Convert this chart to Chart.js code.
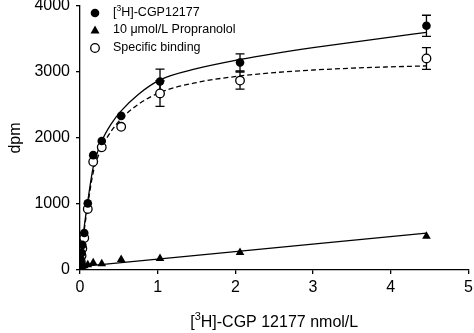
<!DOCTYPE html>
<html>
<head>
<meta charset="utf-8">
<script src="https://cdn.jsdelivr.net/npm/chart.js@4"></script>
<style>
  body { margin: 0; background: #fff; }
</style>
</head>
<body>
<canvas id="binding-graph" width="474" height="333"></canvas>
<script>
// ligand concentration (nmol/L) and measured dpm
var concentrations = [0.005, 0.01, 0.02, 0.03, 0.055, 0.1, 0.17, 0.28, 0.53, 1.03, 2.06, 4.46];
var totalBinding = [90, 160, 260, 380, 560, 1010, 1740, 1955, 2335, 2855, 3145, 3700];
var totalError = [0, 0, 0, 0, 0, 0, 0, 0, 0, 190, 130, 160];
var nonSpecific = [30, 35, 45, 55, 65, 80, 110, 95, 160, 175, 265, 510];
var specificBinding = [60, 125, 215, 325, 485, 925, 1640, 1860, 2170, 2675, 2870, 3205];
var specificError = [0, 0, 0, 0, 0, 0, 0, 0, 0, 195, 130, 165];

// fitted curves
var curveX = [0, 0.05, 0.1, 0.17, 0.28, 0.4, 0.53, 0.75, 1.03, 1.5, 2.06, 2.5, 3, 3.5, 4, 4.46];
var totalCurve = [50, 610, 1040, 1560, 1950, 2210, 2410, 2660, 2880, 3050, 3190, 3280, 3370, 3450, 3530, 3600];
var specificCurve = [0, 560, 980, 1480, 1850, 2100, 2290, 2510, 2690, 2840, 2940, 2990, 3030, 3058, 3078, 3092];
var nsLineX = [0, 4.46];
var nsLine = [50, 560];

var xTicks = [0, 1, 2, 3, 4, 5];
var yTicks = [0, 1000, 2000, 3000, 4000];

var FONT = '"Liberation Sans", Arial, sans-serif';

function pts(xs, ys) {
    return xs.map(function(x, i) { return { x: x, y: ys[i] }; });
}

// error bars, drawn under the markers
var errorBars = {
    id: 'errorBars',
    beforeDatasetsDraw: function(chart) {
        var ctx = chart.ctx;
        var xs = chart.scales.x, ys = chart.scales.y;
        ctx.save();
        ctx.strokeStyle = '#000';
        ctx.lineWidth = 1.3;
        chart.data.datasets.forEach(function(ds) {
            if (!ds.errors) return;
            ds.data.forEach(function(p, i) {
                var e = ds.errors[i];
                if (!e) return;
                var px = xs.getPixelForValue(p.x);
                var top = ys.getPixelForValue(p.y + e);
                var bot = ys.getPixelForValue(p.y - e);
                ctx.beginPath();
                ctx.moveTo(px, top); ctx.lineTo(px, bot);
                ctx.moveTo(px - 4.5, top); ctx.lineTo(px + 4.5, top);
                ctx.moveTo(px - 4.5, bot); ctx.lineTo(px + 4.5, bot);
                ctx.stroke();
            });
        });
        ctx.restore();
    }
};

// legend + x title with superscripts
var extras = {
    id: 'extras',
    afterDraw: function(chart) {
        var ctx = chart.ctx;
        ctx.save();
        ctx.fillStyle = '#000';
        ctx.strokeStyle = '#000';
        ctx.textBaseline = 'middle';
        ctx.textAlign = 'left';

        var mx = 95, tx = 113;
        var rows = [13, 30, 48];
        // filled circle
        ctx.beginPath(); ctx.arc(mx, rows[0], 4.3, 0, Math.PI * 2); ctx.fill();
        // triangle
        ctx.beginPath();
        ctx.moveTo(mx, rows[1] - 4.5); ctx.lineTo(mx + 4.5, rows[1] + 3.5); ctx.lineTo(mx - 4.5, rows[1] + 3.5);
        ctx.closePath(); ctx.fill();
        // open circle
        ctx.lineWidth = 1.3;
        ctx.beginPath(); ctx.arc(mx, rows[2], 4.3, 0, Math.PI * 2); ctx.stroke();

        ctx.font = '12.5px ' + FONT;
        var x = tx;
        ctx.fillText('[', x, rows[0]); x += ctx.measureText('[').width;
        ctx.font = '8.5px ' + FONT;
        ctx.fillText('3', x, rows[0] - 4); x += ctx.measureText('3').width;
        ctx.font = '12.5px ' + FONT;
        ctx.fillText('H]-CGP12177', x, rows[0]);
        ctx.fillText('10 \u03bcmol/L Propranolol', tx, rows[1]);
        ctx.fillText('Specific binding', tx, rows[2]);

        // x axis title
        var big = '16px ' + FONT, small = '11px ' + FONT;
        ctx.font = big;
        var w1 = ctx.measureText('[').width;
        var w3 = ctx.measureText('H]-CGP 12177 nmol/L').width;
        ctx.font = small;
        var w2 = ctx.measureText('3').width;
        var area = chart.chartArea;
        var cx = (area.left + area.right) / 2;
        var y = 323;
        x = cx - (w1 + w2 + w3) / 2;
        ctx.font = big;
        ctx.fillText('[', x, y); x += w1;
        ctx.font = small;
        ctx.fillText('3', x, y - 6); x += w2;
        ctx.font = big;
        ctx.fillText('H]-CGP 12177 nmol/L', x, y);
        ctx.restore();
    }
};

var ctx = document.getElementById('binding-graph').getContext('2d');
var bindingChart = new Chart(ctx, {
    type: 'scatter',
    data: {
        datasets: [{
            label: '[3H]-CGP12177',
            data: pts(concentrations, totalBinding),
            errors: totalError,
            pointStyle: 'circle',
            pointRadius: 4.3,
            backgroundColor: '#000',
            borderColor: '#000',
            borderWidth: 0
        }, {
            label: '10 \u03bcmol/L Propranolol',
            data: pts(concentrations, nonSpecific),
            pointStyle: 'triangle',
            pointRadius: 5,
            backgroundColor: '#000',
            borderColor: '#000',
            borderWidth: 0
        }, {
            label: 'Specific binding',
            data: pts(concentrations, specificBinding),
            errors: specificError,
            pointStyle: 'circle',
            pointRadius: 4.3,
            backgroundColor: '#fff',
            borderColor: '#000',
            borderWidth: 1.3
        }, {
            label: 'total fit',
            data: pts(curveX, totalCurve),
            showLine: true,
            pointRadius: 0,
            borderColor: '#000',
            borderWidth: 1.3,
            cubicInterpolationMode: 'monotone'
        }, {
            label: 'specific fit',
            data: pts(curveX, specificCurve),
            showLine: true,
            pointRadius: 0,
            borderColor: '#000',
            borderWidth: 1.3,
            borderDash: [5, 3],
            cubicInterpolationMode: 'monotone'
        }, {
            label: 'nonspecific fit',
            data: pts(nsLineX, nsLine),
            showLine: true,
            pointRadius: 0,
            borderColor: '#000',
            borderWidth: 1.3
        }]
    },
    options: {
        responsive: false,
        animation: false,
        layout: { padding: { top: 6, right: 3, left: 0, bottom: 0 } },
        plugins: {
            legend: { display: false },
            tooltip: { enabled: false }
        },
        scales: {
            x: {
                type: 'linear',
                min: 0, max: 5,
                afterBuildTicks: function(scale) { scale.ticks = xTicks.map(function(v) { return { value: v }; }); },
                afterFit: function(scale) {
                    scale.height = 63;
                    scale.paddingLeft = 0; scale.paddingRight = 0;
                },
                grid: { drawOnChartArea: false, drawTicks: true, tickLength: 4, color: '#000', lineWidth: 1.3 },
                border: { display: true, color: '#000', width: 1.3 },
                ticks: { color: '#000', font: { size: 16, family: FONT }, padding: 4, maxRotation: 0,
                         callback: function(v) { return String(v); } }
            },
            y: {
                type: 'linear',
                min: 0, max: 4000,
                afterBuildTicks: function(scale) { scale.ticks = yTicks.map(function(v) { return { value: v }; }); },
                afterFit: function(scale) {
                    scale.width = 80;
                    scale.paddingTop = 0; scale.paddingBottom = 0;
                },
                grid: { drawOnChartArea: false, drawTicks: true, tickLength: 4, color: '#000', lineWidth: 1.3 },
                border: { display: true, color: '#000', width: 1.3 },
                ticks: { color: '#000', font: { size: 16, family: FONT }, padding: 6,
                         callback: function(v) { return String(v); } },
                title: { display: true, text: 'dpm', color: '#000', font: { size: 16, family: FONT }, padding: { top: 6, bottom: 0 } }
            }
        }
    },
    plugins: [errorBars, extras]
});
</script>
</body>
</html>
